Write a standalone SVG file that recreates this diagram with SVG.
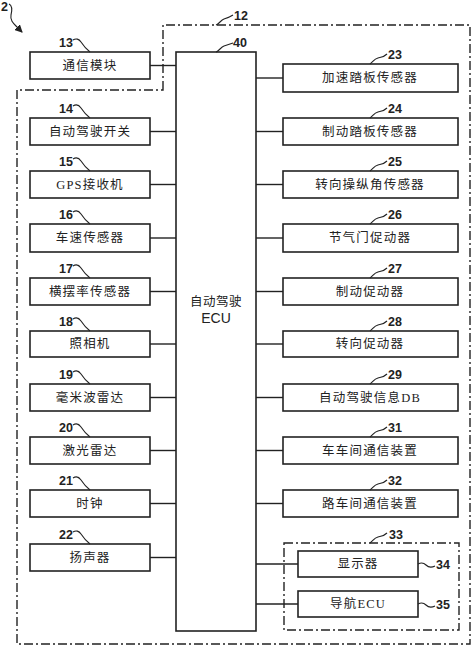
<svg xmlns="http://www.w3.org/2000/svg" width="474" height="647" viewBox="0 0 474 647">
<defs>
<style>
.box{fill:#fff;stroke:#222;stroke-width:1.6}
.dd{fill:none;stroke:#222;stroke-width:1.4;stroke-dasharray:9 3 2 3}
.ln{fill:none;stroke:#222;stroke-width:1.4}
.sq{fill:none;stroke:#222;stroke-width:1.1}
.t{font-family:"Liberation Serif","Noto Sans CJK SC",serif;font-size:12.5px;letter-spacing:1.2px;fill:#222;text-anchor:middle;dominant-baseline:central}
.n{font-family:"Liberation Sans",Arial,sans-serif;font-weight:bold;font-size:12.5px;fill:#222}
.e{font-family:"Noto Sans CJK SC","Liberation Sans",sans-serif;font-size:12.5px;fill:#222;text-anchor:middle;dominant-baseline:central}
</style>
<marker id="ah" markerWidth="8" markerHeight="8" refX="7" refY="4" orient="auto" markerUnits="userSpaceOnUse">
<path d="M0,0 L8,4 L0,8 Z" fill="#222"/>
</marker>
</defs>
<rect width="474" height="647" fill="#fff"/>

<g id="fig-label">
<text class="n" x="1" y="11">2</text>
<path class="sq" d="M9,4 c4,2 3,7 2,11 c-1,5 2,8 5,11 l6,6" marker-end="url(#ah)"/>
</g>

<g id="region12">
<path class="dd" d="M163,90 V25 H470 V644 H17 V90 Z"/>
<text class="n" x="234" y="20">12</text>
<path class="sq" d="M216,25 c3,-1 5,-5 8,-6 s6,-2 9,-4"/>
</g>

<g id="connectors">
<path class="ln" d="M150,65.5 H176"/>
<path class="ln" d="M150,131.5 H176"/>
<path class="ln" d="M150,184.5 H176"/>
<path class="ln" d="M150,238 H176"/>
<path class="ln" d="M150,291.5 H176"/>
<path class="ln" d="M150,344 H176"/>
<path class="ln" d="M150,397.5 H176"/>
<path class="ln" d="M150,450.5 H176"/>
<path class="ln" d="M150,503.5 H176"/>
<path class="ln" d="M150,557.5 H176"/>
<path class="ln" d="M256,78 H283"/>
<path class="ln" d="M256,131.5 H283"/>
<path class="ln" d="M256,184.5 H283"/>
<path class="ln" d="M256,238 H283"/>
<path class="ln" d="M256,291.5 H283"/>
<path class="ln" d="M256,344 H283"/>
<path class="ln" d="M256,397.5 H283"/>
<path class="ln" d="M256,450.5 H283"/>
<path class="ln" d="M256,503.5 H283"/>
<path class="ln" d="M256,564 H298"/>
<path class="ln" d="M256,604 H298"/>
</g>

<g id="ecu40">
<rect class="box" x="176" y="52" width="80" height="579"/>
<text class="e" x="216" y="300" style="letter-spacing:0.5px">自动驾驶</text>
<text class="e" x="216" y="318" style="font-family:'Liberation Sans',Arial,sans-serif;font-size:14px">ECU</text>
<text class="n" x="233" y="47">40</text>
<path class="sq" d="M216,52 c3,-1 5,-5 8,-6 s6,-2 9,-3"/>
</g>

<g id="n13"><rect class="box" x="30" y="52" width="120" height="27"/><text class="t" x="90" y="65.5">通信模块</text><text class="n" x="59" y="47">13</text><path class="sq" d="M73,40 c3,-2 6,-1 8,2 s5,7 9,10"/></g>
<g id="n14"><rect class="box" x="30" y="118" width="120" height="27"/><text class="t" x="90" y="131.5">自动驾驶开关</text><text class="n" x="59" y="113">14</text><path class="sq" d="M73,106 c3,-2 6,-1 8,2 s5,7 9,10"/></g>
<g id="n15"><rect class="box" x="30" y="171" width="120" height="27"/><text class="t" x="90" y="184.5">GPS接收机</text><text class="n" x="59" y="166">15</text><path class="sq" d="M73,159 c3,-2 6,-1 8,2 s5,7 9,10"/></g>
<g id="n16"><rect class="box" x="30" y="224" width="120" height="28"/><text class="t" x="90" y="238">车速传感器</text><text class="n" x="59" y="219">16</text><path class="sq" d="M73,212 c3,-2 6,-1 8,2 s5,7 9,10"/></g>
<g id="n17"><rect class="box" x="30" y="278" width="120" height="27"/><text class="t" x="90" y="291.5">横摆率传感器</text><text class="n" x="59" y="273">17</text><path class="sq" d="M73,266 c3,-2 6,-1 8,2 s5,7 9,10"/></g>
<g id="n18"><rect class="box" x="30" y="331" width="120" height="26"/><text class="t" x="90" y="344">照相机</text><text class="n" x="59" y="326">18</text><path class="sq" d="M73,319 c3,-2 6,-1 8,2 s5,7 9,10"/></g>
<g id="n19"><rect class="box" x="30" y="384" width="120" height="27"/><text class="t" x="90" y="397.5">毫米波雷达</text><text class="n" x="59" y="379">19</text><path class="sq" d="M73,372 c3,-2 6,-1 8,2 s5,7 9,10"/></g>
<g id="n20"><rect class="box" x="30" y="437" width="120" height="27"/><text class="t" x="90" y="450.5">激光雷达</text><text class="n" x="59" y="432">20</text><path class="sq" d="M73,425 c3,-2 6,-1 8,2 s5,7 9,10"/></g>
<g id="n21"><rect class="box" x="30" y="490" width="120" height="27"/><text class="t" x="90" y="503.5">时钟</text><text class="n" x="59" y="485">21</text><path class="sq" d="M73,478 c3,-2 6,-1 8,2 s5,7 9,10"/></g>
<g id="n22"><rect class="box" x="30" y="544" width="120" height="27"/><text class="t" x="90" y="557.5">扬声器</text><text class="n" x="59" y="539">22</text><path class="sq" d="M73,532 c3,-2 6,-1 8,2 s5,7 9,10"/></g>

<g id="n23"><rect class="box" x="283" y="64" width="175" height="28"/><text class="t" x="370" y="78">加速踏板传感器</text><text class="n" x="388" y="59">23</text><path class="sq" d="M370,64 c3,-2 4,-5 8,-6 s6,-1 9,-4"/></g>
<g id="n24"><rect class="box" x="283" y="118" width="175" height="27"/><text class="t" x="370" y="131.5">制动踏板传感器</text><text class="n" x="388" y="113">24</text><path class="sq" d="M370,118 c3,-2 4,-5 8,-6 s6,-1 9,-4"/></g>
<g id="n25"><rect class="box" x="283" y="171" width="175" height="27"/><text class="t" x="370" y="184.5">转向操纵角传感器</text><text class="n" x="388" y="166">25</text><path class="sq" d="M370,171 c3,-2 4,-5 8,-6 s6,-1 9,-4"/></g>
<g id="n26"><rect class="box" x="283" y="224" width="175" height="28"/><text class="t" x="370" y="238">节气门促动器</text><text class="n" x="388" y="219">26</text><path class="sq" d="M370,224 c3,-2 4,-5 8,-6 s6,-1 9,-4"/></g>
<g id="n27"><rect class="box" x="283" y="278" width="175" height="27"/><text class="t" x="370" y="291.5">制动促动器</text><text class="n" x="388" y="273">27</text><path class="sq" d="M370,278 c3,-2 4,-5 8,-6 s6,-1 9,-4"/></g>
<g id="n28"><rect class="box" x="283" y="331" width="175" height="26"/><text class="t" x="370" y="344">转向促动器</text><text class="n" x="388" y="326">28</text><path class="sq" d="M370,331 c3,-2 4,-5 8,-6 s6,-1 9,-4"/></g>
<g id="n29"><rect class="box" x="283" y="384" width="175" height="27"/><text class="t" x="370" y="397.5">自动驾驶信息DB</text><text class="n" x="388" y="379">29</text><path class="sq" d="M370,384 c3,-2 4,-5 8,-6 s6,-1 9,-4"/></g>
<g id="n31"><rect class="box" x="283" y="437" width="175" height="27"/><text class="t" x="370" y="450.5">车车间通信装置</text><text class="n" x="388" y="432">31</text><path class="sq" d="M370,437 c3,-2 4,-5 8,-6 s6,-1 9,-4"/></g>
<g id="n32"><rect class="box" x="283" y="490" width="175" height="27"/><text class="t" x="370" y="503.5">路车间通信装置</text><text class="n" x="388" y="485">32</text><path class="sq" d="M370,490 c3,-2 4,-5 8,-6 s6,-1 9,-4"/></g>

<g id="n33">
<rect class="dd" x="284" y="543" width="175" height="87"/>
<text class="n" x="389" y="539">33</text>
<path class="sq" d="M370,543 c3,-2 4,-5 8,-6 s6,-1 9,-4"/>
</g>
<g id="n34"><rect class="box" x="298" y="551" width="120" height="26"/><text class="t" x="358" y="564">显示器</text><text class="n" x="436" y="569">34</text><path class="sq" d="M418,564 c4,-2 6,-1 8,1 s5,3 9,1"/></g>
<g id="n35"><rect class="box" x="298" y="591" width="120" height="26"/><text class="t" x="358" y="604">导航ECU</text><text class="n" x="436" y="609">35</text><path class="sq" d="M418,604 c4,-2 6,-1 8,1 s5,3 9,1"/></g>
</svg>
